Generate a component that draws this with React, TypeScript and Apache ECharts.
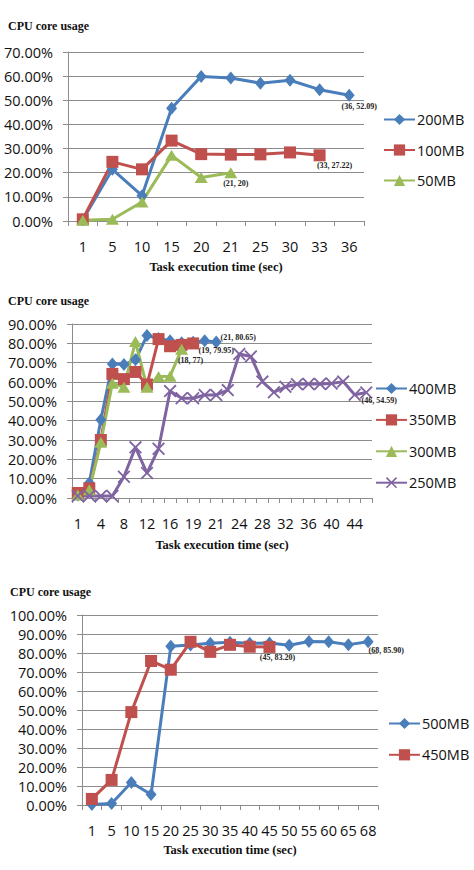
import React, { useEffect, useRef } from "react";
import * as echarts from "echarts";

// Task execution time (sec) categories and CPU core usage (%) per memory size
const timeA = ["1", "5", "10", "15", "20", "21", "25", "30", "33", "36"];
const usage200 = [0.5, 21.4, 10.5, 46.7, 59.9, 59.2, 57.1, 58.3, 54.4, 52.09];
const usage100 = [0.7, 24.5, 21.4, 33.3, 27.7, 27.5, 27.6, 28.4, 27.22];
const usage50 = [0.3, 0.7, 7.9, 27.2, 18.0, 20];

const timeB = ["1", "2", "4", "6", "8", "10", "12", "14", "16", "18", "19", "20", "21", "22", "24", "26", "28", "30", "32", "34", "36", "38", "40", "42", "44", "46"];
const usage400 = [1.5, 7.8, 40.5, 69.3, 69.0, 71.5, 84.0, 82.5, 81.3, 80.3, 80.5, 81.3, 80.65];
const usage350 = [2.6, 5.0, 30.0, 64.2, 61.5, 65.2, 58.7, 82.2, 78.5, 79.2, 79.95];
const usage300 = [1.5, 4.3, 28.8, 59.4, 57.3, 80.9, 57.3, 62.8, 63.0, 77];
const usage250 = [1.0, 1.2, 1.0, 1.0, 11.0, 26.2, 12.9, 25.5, 55.3, 51.6, 51.6, 53.3, 53.3, 55.8, 74.5, 73.2, 60.2, 54.7, 57.5, 58.8, 59.0, 59.0, 59.2, 60.2, 53.4, 54.59];

const timeC = ["1", "5", "10", "15", "20", "25", "30", "35", "40", "45", "50", "55", "60", "65", "68"];
const usage500 = [0.2, 0.8, 11.8, 5.5, 83.5, 84.2, 85.1, 85.6, 85.1, 85.3, 84.1, 86.0, 85.9, 84.4, 85.9];
const usage450 = [3.2, 13.2, 48.9, 75.8, 71.2, 85.9, 80.6, 84.3, 83.3, 83.2];

const BLUE = "#4a7ebb";
const RED = "#c0504d";
const GREEN = "#9bbb59";
const PURPLE = "#8064a2";
const GRID_GRAY = "#8c8c8c";
const SANS = "'Open Sans', 'Liberation Sans', sans-serif";
const SERIF = "'Liberation Serif', 'DejaVu Serif', serif";

const CROSS = "path://M0,1 L1,0 L5,4 L9,0 L10,1 L6,5 L10,9 L9,10 L5,6 L1,10 L0,9 L4,5 Z";

// Attach a "(time, value)" note to one point of a series
function withNote(
  values: number[],
  cats: string[],
  idx: number,
  offset: [number, number],
  decimals: number | null
) {
  return values.map((v, i) => {
    if (i !== idx) return v;
    const txt = decimals === null ? String(v) : v.toFixed(decimals);
    return {
      value: v,
      label: {
        show: true,
        position: "inside",
        offset,
        formatter: `(${cats[i]}, ${txt})`,
        fontFamily: SERIF,
        fontWeight: "bold",
        fontSize: 8,
        color: "#222",
      },
    };
  });
}

function lineSeries(
  name: string,
  axis: number,
  color: string,
  symbol: string,
  symbolSize: number | number[],
  data: any[]
) {
  return {
    type: "line",
    name,
    xAxisIndex: axis,
    yAxisIndex: axis,
    data,
    symbol,
    symbolSize,
    showAllSymbol: true,
    color,
    lineStyle: { color, width: 3 },
    itemStyle: { color, borderWidth: 0 },
    emphasis: { disabled: true },
  };
}

function xAxisFor(grid: number, cats: string[], labelInterval: number, nameGap: number) {
  return {
    type: "category",
    gridIndex: grid,
    data: cats,
    boundaryGap: true,
    name: "Task execution time (sec)",
    nameLocation: "middle",
    nameGap,
    nameTextStyle: { fontFamily: SERIF, fontWeight: "bold", fontSize: 12.5, color: "#111" },
    axisLine: { show: true, lineStyle: { color: GRID_GRAY, width: 1 } },
    axisTick: { show: true, interval: 0, length: 5, lineStyle: { color: GRID_GRAY } },
    axisLabel: { interval: labelInterval, margin: 18, fontFamily: SANS, fontSize: 14.5, color: "#111" },
    splitLine: { show: false },
  };
}

function yAxisFor(grid: number, max: number) {
  return {
    type: "value",
    gridIndex: grid,
    min: 0,
    max,
    interval: 10,
    axisLine: { show: true, lineStyle: { color: GRID_GRAY, width: 1 } },
    axisTick: { show: true, length: 5, lineStyle: { color: GRID_GRAY } },
    axisLabel: {
      margin: 15,
      fontFamily: SANS,
      fontSize: 14.5,
      color: "#111",
      formatter: (v: number) => v.toFixed(2) + "%",
    },
    splitLine: { show: true, lineStyle: { color: GRID_GRAY, width: 1 } },
  };
}

function legendFor(names: string[], left: number, top: number, gap: number, itemWidth: number) {
  return {
    data: names,
    orient: "vertical",
    left,
    top,
    itemGap: gap,
    itemWidth,
    itemHeight: 14,
    selectedMode: false,
    textStyle: { fontFamily: SANS, fontSize: 14.5, color: "#111", padding: [0, 0, 0, -3] },
  };
}

const titleText = (x: number, y: number) => ({
  type: "text",
  x,
  y,
  style: {
    text: "CPU core usage",
    fontFamily: SERIF,
    fontWeight: "bold",
    fontSize: 12,
    fill: "#111",
    verticalAlign: "middle",
  },
});

export default function App() {
  const ref = useRef<HTMLDivElement>(null);

  useEffect(() => {
    if (!ref.current) return;
    const chart = echarts.init(ref.current, null, { renderer: "svg" });

    chart.setOption({
      animation: false,
      backgroundColor: "#ffffff",
      graphic: [titleText(8, 26), titleText(8, 301), titleText(10, 592)],
      grid: [
        { left: 68, top: 52, width: 296, height: 169 },
        { left: 72, top: 324, width: 300, height: 174 },
        { left: 82, top: 615, width: 296, height: 190 },
      ],
      xAxis: [xAxisFor(0, timeA, 0, 39), xAxisFor(1, timeB, 1, 40), xAxisFor(2, timeC, 0, 38)],
      yAxis: [yAxisFor(0, 70), yAxisFor(1, 90), yAxisFor(2, 100)],
      legend: [
        legendFor(["200MB", "100MB", "50MB"], 378, 107, 15.5, 31),
        legendFor(["400MB", "350MB", "300MB", "250MB"], 370, 376, 16.4, 31),
        legendFor(["500MB", "450MB"], 383, 711, 16.3, 31),
      ],
      series: [
        lineSeries("200MB", 0, BLUE, "diamond", [11, 13], withNote(usage200, timeA, 9, [10, 11], null)),
        lineSeries("100MB", 0, RED, "rect", 12, withNote(usage100, timeA, 8, [15, 10], null)),
        lineSeries("50MB", 0, GREEN, "triangle", [13, 11], withNote(usage50, timeA, 5, [5, 11], null)),

        lineSeries("400MB", 1, BLUE, "diamond", [11, 13], withNote(usage400, timeB, 12, [22, -5], null)),
        lineSeries("350MB", 1, RED, "rect", 12, withNote(usage350, timeB, 10, [23, 7.5], null)),
        lineSeries("300MB", 1, GREEN, "triangle", [13, 11], withNote(usage300, timeB, 9, [9, 11], null)),
        lineSeries("250MB", 1, PURPLE, CROSS, 13, withNote(usage250, timeB, 25, [13, 8], null)),

        lineSeries("500MB", 2, BLUE, "diamond", [11, 13], withNote(usage500, timeC, 14, [18, 8.5], 2)),
        lineSeries("450MB", 2, RED, "rect", 12, withNote(usage450, timeC, 9, [8, 11], 2)),
      ],
    });

    return () => chart.dispose();
  }, []);

  return (
    <div
      ref={ref}
      style={{ position: "fixed", left: 0, top: 0, width: 474, height: 870, background: "#fff" }}
    />
  );
}
